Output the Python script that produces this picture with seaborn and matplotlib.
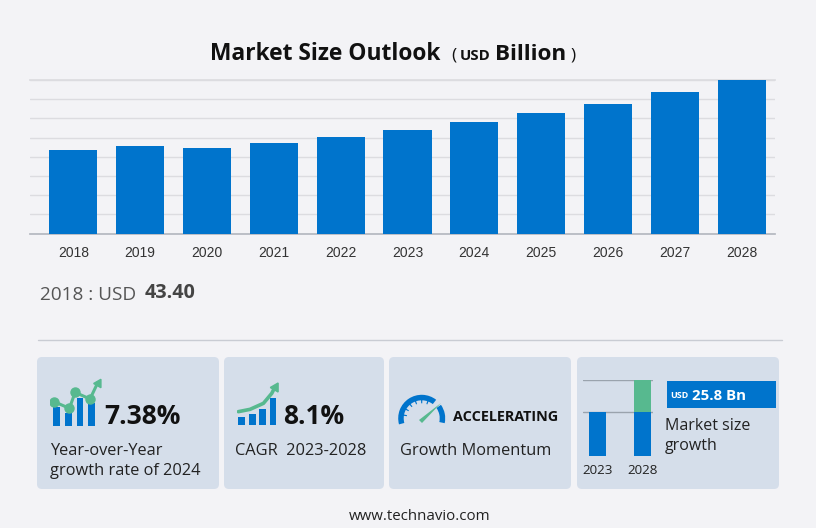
import matplotlib
matplotlib.use("Agg")
import matplotlib.pyplot as plt
from matplotlib.patches import FancyBboxPatch, Wedge, Polygon, Rectangle
import seaborn as sns

years = ["2018", "2019", "2020", "2021", "2022", "2023", "2024", "2025", "2026", "2027", "2028"]
market_size = [43.4, 45.7, 44.8, 47.4, 50.5, 54.2, 58.2, 62.7, 67.7, 73.5, 80.0]
y_ticks = [0, 10, 20, 30, 40, 50, 60, 70, 80]

mini_years = ["2023", "2028"]
mini_base = [35.5, 35.5]
mini_growth = [0, 25.8]

# small icon data
yoy_bars = [58, 40, 85, 68]
yoy_line_x = [-0.23, 1.1, 1.59, 2.88, 3.55]
yoy_line = [73, 53, 101, 81, 130]
cagr_bars = [25, 33, 47, 80]
cagr_line_x = [-0.32, 0.8, 2.08, 2.88, 3.2]
cagr_line = [40, 47, 65, 95, 115]

BLUE = "#0074cc"
GREEN = "#57b98f"
BG = "#f3f3f6"
CARD = "#d5deea"
DARK = "#111111"
TEXT = "#222222"

sns.set_theme(style="white")
plt.rcParams["font.family"] = ["Open Sans", "DejaVu Sans"]

fig = plt.figure(figsize=(8.16, 5.28), dpi=100, facecolor=BG)
W, H = 816, 528


# make an axes from pixel positions, y counted from the top
def px_axes(x0, y0, x1, y1):
    a = fig.add_axes([x0 / W, 1 - y1 / H, (x1 - x0) / W, (y1 - y0) / H])
    a.patch.set_alpha(0)
    a.set_zorder(1)
    return a


# full page layer for cards and text
page = fig.add_axes([0, 0, 1, 1], zorder=0)
page.set_xlim(0, W)
page.set_ylim(H, 0)
page.axis("off")

# main chart
ax = px_axes(30, 80, 775, 233.5)
sns.barplot(x=years, y=market_size, color=BLUE, saturation=1, width=0.72, linewidth=0, ax=ax, zorder=3)
ax.set_xlim(-0.648, 10.5)
ax.set_ylim(0, 80)
ax.set_yticks(y_ticks)
ax.tick_params(axis="y", left=False, labelleft=False)
ax.tick_params(axis="x", bottom=False, pad=3, labelsize=10, labelcolor="#333333")
for lab in ax.get_xticklabels():
    lab.set_fontfamily("Liberation Sans")
ax.grid(axis="y", color="#dcdce0", lw=1, zorder=0)
sns.despine(ax=ax, left=True)
ax.spines["bottom"].set_color("#b4b8c0")
ax.spines["top"].set_visible(True)
ax.spines["top"].set_color("#dcdce0")
ax.set_ylabel("")

# title
page.text(325, 54, "Market Size Outlook", ha="center", va="center", fontsize=16.4, fontweight="bold", color=DARK)
page.text(451, 55, "(", ha="left", va="center", fontsize=12.5, color=DARK)
page.text(460, 56, "USD", ha="left", va="center", fontsize=10.8, fontweight="bold", color=DARK)
page.text(495, 54, "Billion", ha="left", va="center", fontsize=16.2, fontweight="bold", color=DARK)
page.text(570, 55, ")", ha="left", va="center", fontsize=12.5, color=DARK)

# first value
page.text(40, 295, "2018 : USD", ha="left", va="center", fontsize=13.7, color="#555555")
page.text(145, 293, "43.40", ha="left", va="center", fontsize=14.2, fontweight="bold", color="#444444")

page.plot([38, 782], [340, 340], color="#c9ccd3", lw=1)

# cards
for x0, x1 in [(37, 219), (224, 384), (389, 571), (577, 779)]:
    page.add_patch(FancyBboxPatch((x0 + 4, 361), x1 - x0 - 8, 124, boxstyle="round,pad=4,rounding_size=5",
                                  fc=CARD, ec="none"))

# year over year icon
yoy = px_axes(50, 378, 101, 426)
sns.barplot(x=list(range(4)), y=yoy_bars, color=BLUE, saturation=1, width=0.57, linewidth=0, ax=yoy)
yoy.plot(yoy_line_x, yoy_line, color=GREEN, lw=2.2)
yoy.plot(yoy_line_x[:4], yoy_line[:4], "o", color=GREEN, ms=6.5)
yoy.plot(yoy_line_x[4:], yoy_line[4:], marker=(3, 0, -30), color=GREEN, ms=7)
yoy.set_xlim(-0.58, 3.83)
yoy.set_ylim(0, 144)
yoy.axis("off")
page.text(104, 417, "7.38%", ha="left", va="center", fontsize=19, fontweight="bold", color=DARK)
page.text(50, 451, "Year-over-Year", ha="left", va="center", fontsize=11.8, color=TEXT)
page.text(50, 471, "growth rate of 2024", ha="left", va="center", fontsize=11.8, color=TEXT)

# cagr icon
cagr = px_axes(237, 381, 279, 425)
sns.barplot(x=list(range(4)), y=cagr_bars, color=BLUE, saturation=1, width=0.66, linewidth=0, ax=cagr)
cagr.plot(cagr_line_x, cagr_line, color=GREEN, lw=2.6)
cagr.plot(cagr_line_x[4:], cagr_line[4:], marker=(3, 0, -30), color=GREEN, ms=7.5)
cagr.set_xlim(-0.45, 3.57)
cagr.set_ylim(0, 132)
cagr.axis("off")
page.text(283, 417, "8.1%", ha="left", va="center", fontsize=19, fontweight="bold", color=DARK)
page.text(235, 451, "CAGR  2023-2028", ha="left", va="center", fontsize=11.8, color=TEXT)

# gauge icon
for t1, t2 in [(165, 308), (325, 372)]:
    page.add_patch(Wedge((421.7, 418.3), 23.5, t1, t2, width=5.5, fc=BLUE, ec="none"))
for t in [190, 210, 230, 250, 270, 290]:
    page.add_patch(Wedge((421.7, 418.3), 20, t - 2, t + 2, width=5, fc=BLUE, ec="none"))
page.add_patch(Polygon([(419, 420), (422, 423), (441, 403)], fc=GREEN, ec="none"))
page.text(453, 417, "ACCELERATING", ha="left", va="center", fontsize=10.4, fontweight="bold", color=DARK)
page.text(400, 451, "Growth Momentum", ha="left", va="center", fontsize=11.8, color=TEXT)

# market size growth card
mini = px_axes(583, 380, 653, 456)
sns.barplot(x=mini_years, y=mini_base, color=BLUE, saturation=1, width=0.38, linewidth=0, ax=mini, zorder=3)
sns.barplot(x=mini_years, y=mini_growth, bottom=mini_base, color=GREEN, saturation=1, width=0.38, linewidth=0, ax=mini, zorder=3)
mini.set_xlim(-0.324, 1.23)
mini.set_ylim(0, 61.3)
mini.axhline(mini_base[0], color="#9aa3ad", lw=1, zorder=2)
mini.axhline(61.3, color="#9aa3ad", lw=1, zorder=2)
mini.tick_params(axis="x", bottom=False, pad=0, labelsize=9.6, labelcolor=TEXT)
mini.tick_params(axis="y", left=False, labelleft=False)
mini.set_ylabel("")
sns.despine(ax=mini, left=True, bottom=True)

page.add_patch(Rectangle((667, 381), 109, 27, fc=BLUE, ec="none"))
page.text(670, 396, "USD", ha="left", va="center", fontsize=6.5, fontweight="bold", color="white")
page.text(692, 396, "25.8 Bn", ha="left", va="center", fontsize=10.8, fontweight="bold", color="white")
page.text(665, 426, "Market size", ha="left", va="center", fontsize=11.5, color=TEXT)
page.text(665, 446, "growth", ha="left", va="center", fontsize=11.5, color=TEXT)

# footer
page.text(420, 517, "www.technavio.com", ha="center", va="center", fontsize=10.8, color=TEXT)

fig.savefig("out.png", dpi=100, facecolor=BG)
